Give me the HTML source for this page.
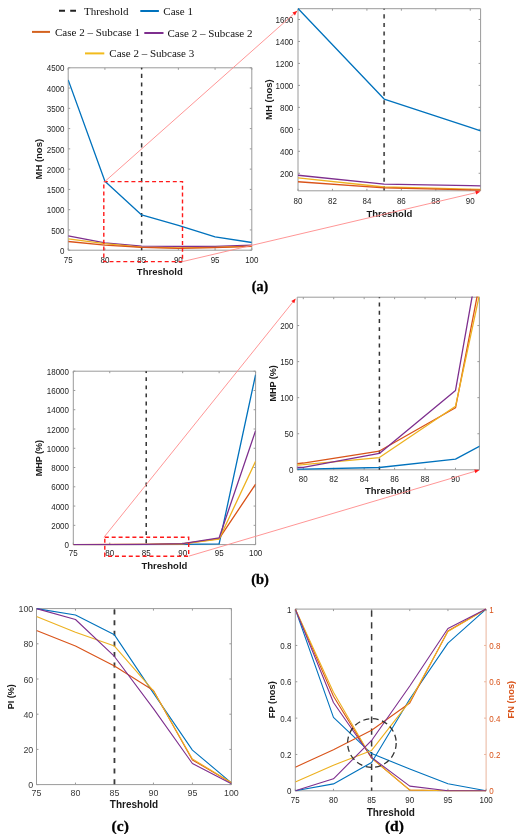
<!DOCTYPE html>
<html><head><meta charset="utf-8"><title>Figure</title>
<style>
html,body{margin:0;padding:0;background:#fff;}
body{width:523px;height:834px;overflow:hidden;}
svg{display:block;}
.tk{font-family:"Liberation Sans",Arial,sans-serif;}
.lb{font-family:"Liberation Sans",Arial,sans-serif;font-weight:bold;fill:#1a1a1a;}
.lg text{font-family:"Liberation Serif","Times New Roman",serif;fill:#111;}
.sub{font-family:"Liberation Serif","Times New Roman",serif;font-weight:bold;font-size:14.5px;fill:#000;stroke:#000;stroke-width:0.3px;}
</style></head><body>
<svg width="523" height="834" viewBox="0 0 523 834">
<defs>
<clipPath id="cA"><rect x="68.2" y="67.1" width="183.6" height="183.8"/></clipPath>
<clipPath id="cAR"><rect x="298" y="8" width="182.6" height="183.5"/></clipPath>
<clipPath id="cB"><rect x="73.3" y="370.5" width="182.3" height="174.8"/></clipPath>
<clipPath id="cBR"><rect x="297.2" y="296.5" width="182.2" height="174"/></clipPath>
<clipPath id="cC"><rect x="36.5" y="607.9" width="194.9" height="177.4"/></clipPath>
<clipPath id="cD"><rect x="295.3" y="608.4" width="190.8" height="183.1"/></clipPath>
</defs>
<rect width="523" height="834" fill="#fff"/>
<g class="lg" font-size="11">
<line x1="59" y1="10.8" x2="76" y2="10.8" stroke="#222" stroke-width="2" stroke-dasharray="6 5.2"/>
<text x="84" y="15">Threshold</text>
<line x1="140.3" y1="11" x2="158.9" y2="11" stroke="#0072BD" stroke-width="2"/>
<text x="163.3" y="15">Case 1</text>
<line x1="32" y1="31.9" x2="50" y2="31.9" stroke="#d4621f" stroke-width="2"/>
<text x="55" y="35.7">Case 2 – Subcase 1</text>
<line x1="144.3" y1="33" x2="163.5" y2="33" stroke="#7E2F8E" stroke-width="2"/>
<text x="167.5" y="36.7">Case 2 – Subcase 2</text>
<line x1="85" y1="53.4" x2="104.3" y2="53.4" stroke="#f2bb1c" stroke-width="2"/>
<text x="109.3" y="56.9">Case 2 – Subcase 3</text>
</g>
<path d="M68.2 67.8H251.8M68.2 67.8V250.2M68.2 250.2H251.8" stroke="#9a9a9a" stroke-width="1" fill="none"/>
<path d="M251.8 67.8V250.2" stroke="#9a9a9a" stroke-width="1" fill="none"/>
<path d="M68.2 250.2v-2M68.2 67.8v2M104.92 250.2v-2M104.92 67.8v2M141.64 250.2v-2M141.64 67.8v2M178.36 250.2v-2M178.36 67.8v2M215.08 250.2v-2M215.08 67.8v2M251.8 250.2v-2M251.8 67.8v2" stroke="#9a9a9a" stroke-width="1" fill="none"/>
<text transform="translate(68.2 262.6) scale(0.9 1)" class="tk" text-anchor="middle" font-size="8.9" fill="#262626">75</text>
<text transform="translate(104.92 262.6) scale(0.9 1)" class="tk" text-anchor="middle" font-size="8.9" fill="#262626">80</text>
<text transform="translate(141.64 262.6) scale(0.9 1)" class="tk" text-anchor="middle" font-size="8.9" fill="#262626">85</text>
<text transform="translate(178.36 262.6) scale(0.9 1)" class="tk" text-anchor="middle" font-size="8.9" fill="#262626">90</text>
<text transform="translate(215.08 262.6) scale(0.9 1)" class="tk" text-anchor="middle" font-size="8.9" fill="#262626">95</text>
<text transform="translate(251.8 262.6) scale(0.9 1)" class="tk" text-anchor="middle" font-size="8.9" fill="#262626">100</text>
<path d="M68.2 250.2h2M251.8 250.2h-2M68.2 229.93h2M251.8 229.93h-2M68.2 209.67h2M251.8 209.67h-2M68.2 189.4h2M251.8 189.4h-2M68.2 169.13h2M251.8 169.13h-2M68.2 148.87h2M251.8 148.87h-2M68.2 128.6h2M251.8 128.6h-2M68.2 108.33h2M251.8 108.33h-2M68.2 88.07h2M251.8 88.07h-2M68.2 67.8h2M251.8 67.8h-2" stroke="#9a9a9a" stroke-width="1" fill="none"/>
<text transform="translate(64.5 250.7) scale(0.9 1)" class="tk" text-anchor="end" font-size="8.9" fill="#262626" dominant-baseline="central">0</text>
<text transform="translate(64.5 230.43) scale(0.9 1)" class="tk" text-anchor="end" font-size="8.9" fill="#262626" dominant-baseline="central">500</text>
<text transform="translate(64.5 210.17) scale(0.9 1)" class="tk" text-anchor="end" font-size="8.9" fill="#262626" dominant-baseline="central">1000</text>
<text transform="translate(64.5 189.9) scale(0.9 1)" class="tk" text-anchor="end" font-size="8.9" fill="#262626" dominant-baseline="central">1500</text>
<text transform="translate(64.5 169.63) scale(0.9 1)" class="tk" text-anchor="end" font-size="8.9" fill="#262626" dominant-baseline="central">2000</text>
<text transform="translate(64.5 149.37) scale(0.9 1)" class="tk" text-anchor="end" font-size="8.9" fill="#262626" dominant-baseline="central">2500</text>
<text transform="translate(64.5 129.1) scale(0.9 1)" class="tk" text-anchor="end" font-size="8.9" fill="#262626" dominant-baseline="central">3000</text>
<text transform="translate(64.5 108.83) scale(0.9 1)" class="tk" text-anchor="end" font-size="8.9" fill="#262626" dominant-baseline="central">3500</text>
<text transform="translate(64.5 88.57) scale(0.9 1)" class="tk" text-anchor="end" font-size="8.9" fill="#262626" dominant-baseline="central">4000</text>
<text transform="translate(64.5 68.3) scale(0.9 1)" class="tk" text-anchor="end" font-size="8.9" fill="#262626" dominant-baseline="central">4500</text>
<line x1="141.64" y1="67.8" x2="141.64" y2="250.2" stroke="#333" stroke-width="1.5" stroke-dasharray="4.2 4.5" stroke-dashoffset="2.8"/>
<polyline points="68.2,235.81 104.92,242.78 141.64,246.07 178.36,246.47 215.08,246.31 251.8,245.25" fill="none" stroke="#7E2F8E" stroke-width="1.3" stroke-linejoin="round" clip-path="url(#cA)"/>
<polyline points="68.2,238.89 104.92,243.71 141.64,247.12 178.36,247.97 215.08,247.28 251.8,246.07" fill="none" stroke="#EDB120" stroke-width="1.3" stroke-linejoin="round" clip-path="url(#cA)"/>
<polyline points="68.2,241.49 104.92,245.13 141.64,247.44 178.36,248.38 215.08,247.69 251.8,246.47" fill="none" stroke="#D95319" stroke-width="1.3" stroke-linejoin="round" clip-path="url(#cA)"/>
<polyline points="68.2,79.96 104.92,181.29 141.64,214.94 178.36,225.27 215.08,236.91 251.8,242.5" fill="none" stroke="#0072BD" stroke-width="1.3" stroke-linejoin="round" clip-path="url(#cA)"/>
<text x="159.8" y="271.7" class="lb" text-anchor="middle" font-size="9.5" dominant-baseline="central">Threshold</text>
<text transform="translate(38.6 159.2) rotate(-90)" class="lb" text-anchor="middle" font-size="9.5" style="fill:#1a1a1a" dominant-baseline="central">MH (nos)</text>
<rect x="103.8" y="181.6" width="78.7" height="80" fill="none" stroke="#ff1a1a" stroke-width="1.4" stroke-dasharray="4 2.9"/>
<path d="M298 8.7H480.6M298 8.7V190.8M298 190.8H480.6" stroke="#9a9a9a" stroke-width="1" fill="none"/>
<path d="M480.6 8.7V190.8" stroke="#9a9a9a" stroke-width="1" fill="none"/>
<path d="M298 190.8v-2M298 8.7v2M332.45 190.8v-2M332.45 8.7v2M366.91 190.8v-2M366.91 8.7v2M401.36 190.8v-2M401.36 8.7v2M435.81 190.8v-2M435.81 8.7v2M470.26 190.8v-2M470.26 8.7v2" stroke="#9a9a9a" stroke-width="1" fill="none"/>
<text transform="translate(298 203.5) scale(0.9 1)" class="tk" text-anchor="middle" font-size="8.9" fill="#262626">80</text>
<text transform="translate(332.45 203.5) scale(0.9 1)" class="tk" text-anchor="middle" font-size="8.9" fill="#262626">82</text>
<text transform="translate(366.91 203.5) scale(0.9 1)" class="tk" text-anchor="middle" font-size="8.9" fill="#262626">84</text>
<text transform="translate(401.36 203.5) scale(0.9 1)" class="tk" text-anchor="middle" font-size="8.9" fill="#262626">86</text>
<text transform="translate(435.81 203.5) scale(0.9 1)" class="tk" text-anchor="middle" font-size="8.9" fill="#262626">88</text>
<text transform="translate(470.26 203.5) scale(0.9 1)" class="tk" text-anchor="middle" font-size="8.9" fill="#262626">90</text>
<path d="M298 173.28h2M480.6 173.28h-2M298 151.3h2M480.6 151.3h-2M298 129.33h2M480.6 129.33h-2M298 107.36h2M480.6 107.36h-2M298 85.39h2M480.6 85.39h-2M298 63.41h2M480.6 63.41h-2M298 41.44h2M480.6 41.44h-2M298 19.47h2M480.6 19.47h-2" stroke="#9a9a9a" stroke-width="1" fill="none"/>
<text transform="translate(293.3 173.78) scale(0.9 1)" class="tk" text-anchor="end" font-size="8.9" fill="#262626" dominant-baseline="central">200</text>
<text transform="translate(293.3 151.8) scale(0.9 1)" class="tk" text-anchor="end" font-size="8.9" fill="#262626" dominant-baseline="central">400</text>
<text transform="translate(293.3 129.83) scale(0.9 1)" class="tk" text-anchor="end" font-size="8.9" fill="#262626" dominant-baseline="central">600</text>
<text transform="translate(293.3 107.86) scale(0.9 1)" class="tk" text-anchor="end" font-size="8.9" fill="#262626" dominant-baseline="central">800</text>
<text transform="translate(293.3 85.89) scale(0.9 1)" class="tk" text-anchor="end" font-size="8.9" fill="#262626" dominant-baseline="central">1000</text>
<text transform="translate(293.3 63.91) scale(0.9 1)" class="tk" text-anchor="end" font-size="8.9" fill="#262626" dominant-baseline="central">1200</text>
<text transform="translate(293.3 41.94) scale(0.9 1)" class="tk" text-anchor="end" font-size="8.9" fill="#262626" dominant-baseline="central">1400</text>
<text transform="translate(293.3 19.97) scale(0.9 1)" class="tk" text-anchor="end" font-size="8.9" fill="#262626" dominant-baseline="central">1600</text>
<line x1="384.13" y1="8.7" x2="384.13" y2="190.8" stroke="#555" stroke-width="1.8" stroke-dasharray="4.1 4.5" stroke-dashoffset="3"/>
<polyline points="298,175.25 384.13,184.15 470.26,185.58 480.6,185.8" fill="none" stroke="#7E2F8E" stroke-width="1.3" stroke-linejoin="round" clip-path="url(#cAR)"/>
<polyline points="298,177.89 384.13,187.01 470.26,189.1 480.6,189.32" fill="none" stroke="#EDB120" stroke-width="1.3" stroke-linejoin="round" clip-path="url(#cAR)"/>
<polyline points="298,181.74 384.13,187.78 470.26,189.87 480.6,190.09" fill="none" stroke="#D95319" stroke-width="1.3" stroke-linejoin="round" clip-path="url(#cAR)"/>
<polyline points="298,8.48 384.13,99.01 470.26,127.35 480.6,130.76" fill="none" stroke="#0072BD" stroke-width="1.3" stroke-linejoin="round" clip-path="url(#cAR)"/>
<text x="389.4" y="213.2" class="lb" text-anchor="middle" font-size="9.5" dominant-baseline="central">Threshold</text>
<text transform="translate(268.5 99.6) rotate(-90)" class="lb" text-anchor="middle" font-size="9.5" style="fill:#1a1a1a" dominant-baseline="central">MH (nos)</text>
<line x1="104.3" y1="182" x2="293.71" y2="13.99" stroke="#ff8a8a" stroke-width="0.9"/>
<polygon points="297.3,10.8 294.97,15.41 292.45,12.56" fill="#ff1a1a"/>
<line x1="182.5" y1="261.6" x2="475.73" y2="192.7" stroke="#ff8a8a" stroke-width="0.9"/>
<polygon points="480.4,191.6 476.16,194.55 475.29,190.85" fill="#ff1a1a"/>
<text x="260" y="291.1" class="sub" text-anchor="middle" style="font-size:14px">(a)</text>
<path d="M73.3 371.2H255.6M73.3 371.2V544.6M73.3 544.6H255.6" stroke="#9a9a9a" stroke-width="1" fill="none"/>
<path d="M255.6 371.2V544.6" stroke="#9a9a9a" stroke-width="1" fill="none"/>
<path d="M73.3 544.6v-2M73.3 371.2v2M109.76 544.6v-2M109.76 371.2v2M146.22 544.6v-2M146.22 371.2v2M182.68 544.6v-2M182.68 371.2v2M219.14 544.6v-2M219.14 371.2v2M255.6 544.6v-2M255.6 371.2v2" stroke="#9a9a9a" stroke-width="1" fill="none"/>
<text transform="translate(73.3 556.3) scale(0.9 1)" class="tk" text-anchor="middle" font-size="8.9" fill="#262626">75</text>
<text transform="translate(109.76 556.3) scale(0.9 1)" class="tk" text-anchor="middle" font-size="8.9" fill="#262626">80</text>
<text transform="translate(146.22 556.3) scale(0.9 1)" class="tk" text-anchor="middle" font-size="8.9" fill="#262626">85</text>
<text transform="translate(182.68 556.3) scale(0.9 1)" class="tk" text-anchor="middle" font-size="8.9" fill="#262626">90</text>
<text transform="translate(219.14 556.3) scale(0.9 1)" class="tk" text-anchor="middle" font-size="8.9" fill="#262626">95</text>
<text transform="translate(255.6 556.3) scale(0.9 1)" class="tk" text-anchor="middle" font-size="8.9" fill="#262626">100</text>
<path d="M73.3 544.6h2M255.6 544.6h-2M73.3 525.33h2M255.6 525.33h-2M73.3 506.07h2M255.6 506.07h-2M73.3 486.8h2M255.6 486.8h-2M73.3 467.53h2M255.6 467.53h-2M73.3 448.27h2M255.6 448.27h-2M73.3 429h2M255.6 429h-2M73.3 409.73h2M255.6 409.73h-2M73.3 390.47h2M255.6 390.47h-2M73.3 371.2h2M255.6 371.2h-2" stroke="#9a9a9a" stroke-width="1" fill="none"/>
<text transform="translate(69 545.1) scale(0.9 1)" class="tk" text-anchor="end" font-size="8.9" fill="#262626" dominant-baseline="central">0</text>
<text transform="translate(69 525.83) scale(0.9 1)" class="tk" text-anchor="end" font-size="8.9" fill="#262626" dominant-baseline="central">2000</text>
<text transform="translate(69 506.57) scale(0.9 1)" class="tk" text-anchor="end" font-size="8.9" fill="#262626" dominant-baseline="central">4000</text>
<text transform="translate(69 487.3) scale(0.9 1)" class="tk" text-anchor="end" font-size="8.9" fill="#262626" dominant-baseline="central">6000</text>
<text transform="translate(69 468.03) scale(0.9 1)" class="tk" text-anchor="end" font-size="8.9" fill="#262626" dominant-baseline="central">8000</text>
<text transform="translate(69 448.77) scale(0.9 1)" class="tk" text-anchor="end" font-size="8.9" fill="#262626" dominant-baseline="central">10000</text>
<text transform="translate(69 429.5) scale(0.9 1)" class="tk" text-anchor="end" font-size="8.9" fill="#262626" dominant-baseline="central">12000</text>
<text transform="translate(69 410.23) scale(0.9 1)" class="tk" text-anchor="end" font-size="8.9" fill="#262626" dominant-baseline="central">14000</text>
<text transform="translate(69 390.97) scale(0.9 1)" class="tk" text-anchor="end" font-size="8.9" fill="#262626" dominant-baseline="central">16000</text>
<text transform="translate(69 371.7) scale(0.9 1)" class="tk" text-anchor="end" font-size="8.9" fill="#262626" dominant-baseline="central">18000</text>
<line x1="146.22" y1="371.2" x2="146.22" y2="544.6" stroke="#333" stroke-width="1.5" stroke-dasharray="3.8 4.3" stroke-dashoffset="2"/>
<polyline points="73.3,544.6 109.76,544.59 146.22,544.57 182.68,544.46 219.14,543.92 255.6,374.67" fill="none" stroke="#0072BD" stroke-width="1.3" stroke-linejoin="round" clip-path="url(#cB)"/>
<polyline points="73.3,544.6 109.76,544.51 146.22,544.35 182.68,543.77 219.14,538.53 255.6,484.15" fill="none" stroke="#D95319" stroke-width="1.3" stroke-linejoin="round" clip-path="url(#cB)"/>
<polyline points="73.3,544.6 109.76,544.53 146.22,544.44 182.68,543.75 219.14,539.01 255.6,461.33" fill="none" stroke="#EDB120" stroke-width="1.3" stroke-linejoin="round" clip-path="url(#cB)"/>
<polyline points="73.3,544.6 109.76,544.57 146.22,544.38 182.68,543.54 219.14,537.8 255.6,430.6" fill="none" stroke="#7E2F8E" stroke-width="1.3" stroke-linejoin="round" clip-path="url(#cB)"/>
<text x="164.4" y="565.1" class="lb" text-anchor="middle" font-size="9.5" dominant-baseline="central">Threshold</text>
<text transform="translate(38.9 458.1) rotate(-90)" class="lb" text-anchor="middle" font-size="9" style="fill:#1a1a1a" dominant-baseline="central">MHP (%)</text>
<rect x="104.8" y="537.3" width="83.9" height="18.9" fill="none" stroke="#ff1a1a" stroke-width="1.4" stroke-dasharray="4 2.9"/>
<path d="M297.2 297.2H479.4M297.2 297.2V469.8M297.2 469.8H479.4" stroke="#9a9a9a" stroke-width="1" fill="none"/>
<path d="M479.4 297.2V469.8" stroke="#9a9a9a" stroke-width="1" fill="none"/>
<path d="M303.29 469.8v-2M303.29 297.2v2M333.73 469.8v-2M333.73 297.2v2M364.17 469.8v-2M364.17 297.2v2M394.62 469.8v-2M394.62 297.2v2M425.06 469.8v-2M425.06 297.2v2M455.5 469.8v-2M455.5 297.2v2" stroke="#9a9a9a" stroke-width="1" fill="none"/>
<text transform="translate(303.29 481.9) scale(0.9 1)" class="tk" text-anchor="middle" font-size="8.9" fill="#262626">80</text>
<text transform="translate(333.73 481.9) scale(0.9 1)" class="tk" text-anchor="middle" font-size="8.9" fill="#262626">82</text>
<text transform="translate(364.17 481.9) scale(0.9 1)" class="tk" text-anchor="middle" font-size="8.9" fill="#262626">84</text>
<text transform="translate(394.62 481.9) scale(0.9 1)" class="tk" text-anchor="middle" font-size="8.9" fill="#262626">86</text>
<text transform="translate(425.06 481.9) scale(0.9 1)" class="tk" text-anchor="middle" font-size="8.9" fill="#262626">88</text>
<text transform="translate(455.5 481.9) scale(0.9 1)" class="tk" text-anchor="middle" font-size="8.9" fill="#262626">90</text>
<path d="M297.2 469.8h2M479.4 469.8h-2M297.2 433.74h2M479.4 433.74h-2M297.2 397.67h2M479.4 397.67h-2M297.2 361.61h2M479.4 361.61h-2M297.2 325.55h2M479.4 325.55h-2" stroke="#9a9a9a" stroke-width="1" fill="none"/>
<text transform="translate(293.5 470.3) scale(0.9 1)" class="tk" text-anchor="end" font-size="8.9" fill="#262626" dominant-baseline="central">0</text>
<text transform="translate(293.5 434.24) scale(0.9 1)" class="tk" text-anchor="end" font-size="8.9" fill="#262626" dominant-baseline="central">50</text>
<text transform="translate(293.5 398.17) scale(0.9 1)" class="tk" text-anchor="end" font-size="8.9" fill="#262626" dominant-baseline="central">100</text>
<text transform="translate(293.5 362.11) scale(0.9 1)" class="tk" text-anchor="end" font-size="8.9" fill="#262626" dominant-baseline="central">150</text>
<text transform="translate(293.5 326.05) scale(0.9 1)" class="tk" text-anchor="end" font-size="8.9" fill="#262626" dominant-baseline="central">200</text>
<line x1="379.4" y1="297.2" x2="379.4" y2="469.8" stroke="#333" stroke-width="1.5" stroke-dasharray="3.9 4.3" stroke-dashoffset="2.8"/>
<polyline points="297.2,469.14 303.29,469.08 379.4,467.49 455.5,459.13 531.61,418.59 607.72,-12253.41" fill="none" stroke="#0072BD" stroke-width="1.3" stroke-linejoin="round" clip-path="url(#cBR)"/>
<polyline points="297.2,463.56 303.29,463.02 379.4,451.05 455.5,407.77 531.61,15.4 607.72,-4056.17" fill="none" stroke="#D95319" stroke-width="1.3" stroke-linejoin="round" clip-path="url(#cBR)"/>
<polyline points="297.2,465.02 303.29,464.61 379.4,457.54 455.5,406.33 531.61,51.46 607.72,-5764.86" fill="none" stroke="#EDB120" stroke-width="1.3" stroke-linejoin="round" clip-path="url(#cBR)"/>
<polyline points="297.2,467.48 303.29,467.28 379.4,453.43 455.5,390.46 531.61,-39.42 607.72,-8065.71" fill="none" stroke="#7E2F8E" stroke-width="1.3" stroke-linejoin="round" clip-path="url(#cBR)"/>
<text x="387.9" y="490.6" class="lb" text-anchor="middle" font-size="9.5" dominant-baseline="central">Threshold</text>
<text transform="translate(272.6 383.4) rotate(-90)" class="lb" text-anchor="middle" font-size="9" style="fill:#1a1a1a" dominant-baseline="central">MHP (%)</text>
<line x1="103.9" y1="537.3" x2="292.79" y2="302.14" stroke="#ff8a8a" stroke-width="0.9"/>
<polygon points="295.8,298.4 294.28,303.33 291.31,300.95" fill="#ff1a1a"/>
<line x1="188.7" y1="556.2" x2="474.8" y2="471.36" stroke="#ff8a8a" stroke-width="0.9"/>
<polygon points="479.4,470 475.34,473.19 474.26,469.54" fill="#ff1a1a"/>
<text x="260" y="584" class="sub" text-anchor="middle">(b)</text>
<path d="M36.5 608.6H231.4M36.5 608.6V784.6M36.5 784.6H231.4" stroke="#9a9a9a" stroke-width="1" fill="none"/>
<path d="M231.4 608.6V784.6" stroke="#9a9a9a" stroke-width="1" fill="none"/>
<path d="M36.5 784.6v-2M36.5 608.6v2M75.48 784.6v-2M75.48 608.6v2M114.46 784.6v-2M114.46 608.6v2M153.44 784.6v-2M153.44 608.6v2M192.42 784.6v-2M192.42 608.6v2M231.4 784.6v-2M231.4 608.6v2" stroke="#9a9a9a" stroke-width="1" fill="none"/>
<text transform="translate(36.5 796.4) scale(1.0 1)" class="tk" text-anchor="middle" font-size="8.9" fill="#3a3a3a">75</text>
<text transform="translate(75.48 796.4) scale(1.0 1)" class="tk" text-anchor="middle" font-size="8.9" fill="#3a3a3a">80</text>
<text transform="translate(114.46 796.4) scale(1.0 1)" class="tk" text-anchor="middle" font-size="8.9" fill="#3a3a3a">85</text>
<text transform="translate(153.44 796.4) scale(1.0 1)" class="tk" text-anchor="middle" font-size="8.9" fill="#3a3a3a">90</text>
<text transform="translate(192.42 796.4) scale(1.0 1)" class="tk" text-anchor="middle" font-size="8.9" fill="#3a3a3a">95</text>
<text transform="translate(231.4 796.4) scale(1.0 1)" class="tk" text-anchor="middle" font-size="8.9" fill="#3a3a3a">100</text>
<path d="M36.5 784.6h2M231.4 784.6h-2M36.5 749.4h2M231.4 749.4h-2M36.5 714.2h2M231.4 714.2h-2M36.5 679h2M231.4 679h-2M36.5 643.8h2M231.4 643.8h-2M36.5 608.6h2M231.4 608.6h-2" stroke="#9a9a9a" stroke-width="1" fill="none"/>
<text transform="translate(33.3 785.1) scale(1.0 1)" class="tk" text-anchor="end" font-size="8.9" fill="#3a3a3a" dominant-baseline="central">0</text>
<text transform="translate(33.3 749.9) scale(1.0 1)" class="tk" text-anchor="end" font-size="8.9" fill="#3a3a3a" dominant-baseline="central">20</text>
<text transform="translate(33.3 714.7) scale(1.0 1)" class="tk" text-anchor="end" font-size="8.9" fill="#3a3a3a" dominant-baseline="central">40</text>
<text transform="translate(33.3 679.5) scale(1.0 1)" class="tk" text-anchor="end" font-size="8.9" fill="#3a3a3a" dominant-baseline="central">60</text>
<text transform="translate(33.3 644.3) scale(1.0 1)" class="tk" text-anchor="end" font-size="8.9" fill="#3a3a3a" dominant-baseline="central">80</text>
<text transform="translate(33.3 609.1) scale(1.0 1)" class="tk" text-anchor="end" font-size="8.9" fill="#3a3a3a" dominant-baseline="central">100</text>
<line x1="114.46" y1="608.6" x2="114.46" y2="784.6" stroke="#3a3a3a" stroke-width="1.8" stroke-dasharray="5 5.6" stroke-dashoffset="9.6"/>
<polyline points="36.5,608.6 75.48,614.94 114.46,634.82 153.44,693.08 192.42,750.1 231.4,782.84" fill="none" stroke="#0072BD" stroke-width="1.1" stroke-linejoin="round" clip-path="url(#cC)"/>
<polyline points="36.5,630.42 75.48,645.91 114.46,665.98 153.44,690.44 192.42,759.96 231.4,782.84" fill="none" stroke="#D95319" stroke-width="1.1" stroke-linejoin="round" clip-path="url(#cC)"/>
<polyline points="36.5,616.52 75.48,632.18 114.46,646.09 153.44,690.79 192.42,758.9 231.4,782.84" fill="none" stroke="#EDB120" stroke-width="1.1" stroke-linejoin="round" clip-path="url(#cC)"/>
<polyline points="36.5,608.6 75.48,619.51 114.46,656.47 153.44,708.57 192.42,763.48 231.4,783.72" fill="none" stroke="#7E2F8E" stroke-width="1.1" stroke-linejoin="round" clip-path="url(#cC)"/>
<text x="134" y="804.5" class="lb" text-anchor="middle" font-size="10" dominant-baseline="central">Threshold</text>
<text transform="translate(10.8 696.7) rotate(-90)" class="lb" text-anchor="middle" font-size="9" style="fill:#1a1a1a" dominant-baseline="central">PI (%)</text>
<text x="120.2" y="831.4" class="sub" text-anchor="middle" style="font-size:15.5px">(c)</text>
<path d="M295.3 609.1H486.1M295.3 609.1V790.8M295.3 790.8H486.1" stroke="#9a9a9a" stroke-width="1" fill="none"/>
<path d="M486.1 609.1V790.8" stroke="#e9b49c" stroke-width="1" fill="none"/>
<path d="M295.3 790.8v-2M295.3 609.1v2M333.46 790.8v-2M333.46 609.1v2M371.62 790.8v-2M371.62 609.1v2M409.78 790.8v-2M409.78 609.1v2M447.94 790.8v-2M447.94 609.1v2M486.1 790.8v-2M486.1 609.1v2" stroke="#9a9a9a" stroke-width="1" fill="none"/>
<text transform="translate(295.3 803) scale(0.9 1)" class="tk" text-anchor="middle" font-size="8.9" fill="#262626">75</text>
<text transform="translate(333.46 803) scale(0.9 1)" class="tk" text-anchor="middle" font-size="8.9" fill="#262626">80</text>
<text transform="translate(371.62 803) scale(0.9 1)" class="tk" text-anchor="middle" font-size="8.9" fill="#262626">85</text>
<text transform="translate(409.78 803) scale(0.9 1)" class="tk" text-anchor="middle" font-size="8.9" fill="#262626">90</text>
<text transform="translate(447.94 803) scale(0.9 1)" class="tk" text-anchor="middle" font-size="8.9" fill="#262626">95</text>
<text transform="translate(486.1 803) scale(0.9 1)" class="tk" text-anchor="middle" font-size="8.9" fill="#262626">100</text>
<path d="M295.3 790.8h2M295.3 754.46h2M295.3 718.12h2M295.3 681.78h2M295.3 645.44h2M295.3 609.1h2" stroke="#9a9a9a" stroke-width="1" fill="none"/>
<text transform="translate(291.5 791.3) scale(0.9 1)" class="tk" text-anchor="end" font-size="8.9" fill="#262626" dominant-baseline="central">0</text>
<text transform="translate(291.5 754.96) scale(0.9 1)" class="tk" text-anchor="end" font-size="8.9" fill="#262626" dominant-baseline="central">0.2</text>
<text transform="translate(291.5 718.62) scale(0.9 1)" class="tk" text-anchor="end" font-size="8.9" fill="#262626" dominant-baseline="central">0.4</text>
<text transform="translate(291.5 682.28) scale(0.9 1)" class="tk" text-anchor="end" font-size="8.9" fill="#262626" dominant-baseline="central">0.6</text>
<text transform="translate(291.5 645.94) scale(0.9 1)" class="tk" text-anchor="end" font-size="8.9" fill="#262626" dominant-baseline="central">0.8</text>
<text transform="translate(291.5 609.6) scale(0.9 1)" class="tk" text-anchor="end" font-size="8.9" fill="#262626" dominant-baseline="central">1</text>
<path d="M486.1 790.8h-2M486.1 754.46h-2M486.1 718.12h-2M486.1 681.78h-2M486.1 645.44h-2M486.1 609.1h-2" stroke="#e9b49c" stroke-width="1" fill="none"/>
<text transform="translate(489.3 791.3) scale(0.9 1)" class="tk" text-anchor="start" font-size="8.9" fill="#D95319" dominant-baseline="central">0</text>
<text transform="translate(489.3 754.96) scale(0.9 1)" class="tk" text-anchor="start" font-size="8.9" fill="#D95319" dominant-baseline="central">0.2</text>
<text transform="translate(489.3 718.62) scale(0.9 1)" class="tk" text-anchor="start" font-size="8.9" fill="#D95319" dominant-baseline="central">0.4</text>
<text transform="translate(489.3 682.28) scale(0.9 1)" class="tk" text-anchor="start" font-size="8.9" fill="#D95319" dominant-baseline="central">0.6</text>
<text transform="translate(489.3 645.94) scale(0.9 1)" class="tk" text-anchor="start" font-size="8.9" fill="#D95319" dominant-baseline="central">0.8</text>
<text transform="translate(489.3 609.6) scale(0.9 1)" class="tk" text-anchor="start" font-size="8.9" fill="#D95319" dominant-baseline="central">1</text>
<line x1="371.62" y1="609.1" x2="371.62" y2="790.8" stroke="#3a3a3a" stroke-width="1.5" stroke-dasharray="6.3 5.5" stroke-dashoffset="10.5"/>
<polyline points="295.3,609.1 333.46,717.39 371.62,753.55 409.78,769 447.94,783.71 486.1,790.8" fill="none" stroke="#0072BD" stroke-width="1.1" stroke-linejoin="round" clip-path="url(#cD)"/>
<polyline points="295.3,609.1 333.46,696.32 371.62,758.09 409.78,790.07 447.94,790.8 486.1,790.8" fill="none" stroke="#D95319" stroke-width="1.1" stroke-linejoin="round" clip-path="url(#cD)"/>
<polyline points="295.3,609.1 333.46,692.32 371.62,758.09 409.78,790.07 447.94,790.8 486.1,790.8" fill="none" stroke="#EDB120" stroke-width="1.1" stroke-linejoin="round" clip-path="url(#cD)"/>
<polyline points="295.3,609.1 333.46,702.49 371.62,757.55 409.78,786.08 447.94,790.8 486.1,790.8" fill="none" stroke="#7E2F8E" stroke-width="1.1" stroke-linejoin="round" clip-path="url(#cD)"/>
<polyline points="295.3,790.8 333.46,783.9 371.62,762.45 409.78,699.04 447.94,643.08 486.1,609.1" fill="none" stroke="#0072BD" stroke-width="1.1" stroke-linejoin="round" clip-path="url(#cD)"/>
<polyline points="295.3,767.18 333.46,749.74 371.62,730.29 409.78,703.04 447.94,630.9 486.1,609.1" fill="none" stroke="#D95319" stroke-width="1.1" stroke-linejoin="round" clip-path="url(#cD)"/>
<polyline points="295.3,782.08 333.46,765.18 371.62,750.46 409.78,701.4 447.94,631.45 486.1,609.1" fill="none" stroke="#EDB120" stroke-width="1.1" stroke-linejoin="round" clip-path="url(#cD)"/>
<polyline points="295.3,790.8 333.46,778.81 371.62,740.47 409.78,685.96 447.94,628.54 486.1,609.1" fill="none" stroke="#7E2F8E" stroke-width="1.1" stroke-linejoin="round" clip-path="url(#cD)"/>
<circle cx="371.9" cy="743" r="24.3" fill="none" stroke="#333" stroke-width="1.3" stroke-dasharray="6 3.55"/>
<text x="390.8" y="812" class="lb" text-anchor="middle" font-size="10" dominant-baseline="central">Threshold</text>
<text transform="translate(272.1 699.7) rotate(-90)" class="lb" text-anchor="middle" font-size="9.3" style="fill:#1a1a1a" dominant-baseline="central">FP (nos)</text>
<text transform="translate(511.3 699.7) rotate(-90)" class="lb" text-anchor="middle" font-size="9.3" style="fill:#D95319" dominant-baseline="central">FN (nos)</text>
<text x="394.4" y="831.4" class="sub" text-anchor="middle" style="font-size:15.5px">(d)</text>
</svg>
</body></html>
